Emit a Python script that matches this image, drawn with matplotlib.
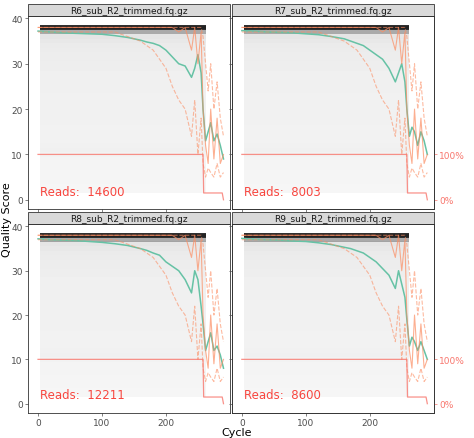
import numpy as np
import matplotlib.pyplot as plt

samples = ["R6_sub_R2_trimmed.fq.gz", "R7_sub_R2_trimmed.fq.gz",
           "R8_sub_R2_trimmed.fq.gz", "R9_sub_R2_trimmed.fq.gz"]
reads = [14600, 8003, 12211, 8600]
cycles = [0, 20, 40, 60, 80, 100, 120, 140, 160, 170, 180, 190, 200, 210, 220, 230, 240, 245, 250, 255, 258, 262, 266, 270, 275, 280, 285, 290]
mean_q = [
 [37.2, 37.0, 36.8, 36.7, 36.6, 36.5, 36.2, 35.8, 35.2, 34.8, 34.5, 34.0, 33.0, 31.5, 30.0, 29.5, 27.0, 29.0, 32.0, 28.0, 20.0, 13.0, 15.0, 17.0, 13.0, 14.5, 12.0, 9.0],
 [37.3, 37.2, 37.0, 36.9, 36.8, 36.6, 36.4, 36.0, 35.5, 35.0, 34.5, 34.0, 33.0, 32.0, 31.0, 29.0, 26.0, 28.0, 30.0, 26.0, 20.0, 14.0, 16.0, 15.0, 12.0, 15.0, 13.0, 10.0],
 [37.2, 37.0, 36.9, 36.8, 36.6, 36.4, 36.1, 35.7, 35.0, 34.6, 34.0, 33.5, 32.0, 31.0, 30.0, 28.0, 25.0, 30.0, 28.0, 22.0, 18.0, 12.0, 14.0, 16.0, 12.0, 13.0, 11.0, 8.0],
 [37.3, 37.1, 37.0, 36.9, 36.7, 36.6, 36.3, 35.9, 35.3, 35.0, 34.5, 34.0, 33.0, 32.0, 30.5, 29.0, 26.0, 30.0, 27.0, 24.0, 19.0, 13.0, 15.0, 14.0, 12.0, 14.0, 12.0, 10.0],
]
median_q = [38, 38, 38, 38, 38, 38, 38, 38, 38, 38, 38, 38, 38, 38, 37, 38, 33, 38, 30, 37, 20, 12, 8, 20, 9, 18, 8, 10]
q25 = [37, 37, 37, 37, 37, 37, 37, 36, 35, 34, 33, 31, 29, 25, 22, 20, 14, 22, 10, 18, 8, 5, 7, 6, 5, 8, 5, 6]
q75 = [38, 38, 38, 38, 38, 38, 38, 38, 38, 38, 38, 38, 38, 38, 38, 38, 38, 38, 38, 38, 36, 30, 24, 30, 20, 26, 18, 14]
prop_cycles = [0, 258, 259, 288, 290]
prop_vals = [10, 10, 1.5, 1.5, 0]
heat_levels = list(range(38, 1, -1))
heat_weight = [0.9, 0.4, 0.14, 0.12, 0.1, 0.09, 0.08, 0.08, 0.07, 0.07, 0.06, 0.06, 0.06, 0.06, 0.06,
               0.05, 0.05, 0.05, 0.05, 0.05, 0.05, 0.05, 0.04, 0.04, 0.04, 0.04, 0.05, 0.06, 0.04,
               0.03, 0.03, 0.03, 0.02, 0.02, 0.02, 0.01, 0.01]

fig = plt.figure(figsize=(4.74, 4.39), dpi=100)
lefts = [0.06, 0.49]
bottoms = [0.522, 0.058]
heights = [0.439, 0.429]
w = 0.425
green = "#66C2A5"; orange = "#FC8D62"; red = "#F8766D"
for i, s in enumerate(samples):
    r, c = divmod(i, 2)
    ax = fig.add_axes([lefts[c], bottoms[r], w, heights[r]])
    for lv, wt in zip(heat_levels, heat_weight):
        if wt > 0.3:
            g = 1 - wt * 0.9
        else:
            g = 0.97 - wt * 0.5
        ax.fill_between([3, 262], lv - 0.5, lv + 0.5, color=(g, g, g), lw=0)
    ax.fill_between([3, 262], 37.6, 38.4, color="#222222", lw=0)
    ax.fill_between([3, 262], 36.6, 37.4, color="#aaaaaa", lw=0)
    ax.plot(cycles, mean_q[i], color=green, lw=1.1)
    ax.plot(cycles, median_q, color=orange, lw=0.8, alpha=0.7)
    ax.plot(cycles, q25, color=orange, lw=0.8, ls="--", alpha=0.6)
    ax.plot(cycles, q75, color=orange, lw=0.8, ls="--", alpha=0.6)
    ax.plot(prop_cycles, prop_vals, color=red, lw=0.9, alpha=0.8)
    ax.text(3, 0.5, f"Reads:  {reads[i]}", color="#F8463F", fontsize=8.5, va="bottom")
    ax.set_xlim(-15, 300)
    ax.set_ylim(-2, 40.5)
    ax.set_xticks([0, 100, 200])
    ax.set_yticks([0, 10, 20, 30, 40])
    ax.tick_params(labelsize=6.5, colors="#4d4d4d", length=2.5, width=0.5, pad=1.5)
    if c == 1:
        ax.set_yticklabels([])
        ax2 = ax.twinx()
        ax2.set_ylim(ax.get_ylim())
        ax2.set_yticks([0, 10])
        ax2.set_yticklabels(["0%", "100%"])
        ax2.tick_params(labelsize=6.5, colors="#F8766D", length=2.5, width=0.5, pad=1.5)
        for sp in ax2.spines.values():
            sp.set_color("#333333"); sp.set_linewidth(0.6)
    if r == 0:
        ax.set_xticklabels([])
    for sp in ax.spines.values():
        sp.set_color("#333333"); sp.set_linewidth(0.6)
    sh = 0.027 / heights[r]
    ax.add_patch(plt.Rectangle((0, 1.0), 1, sh, transform=ax.transAxes, fc="#d9d9d9",
                               ec="#333333", lw=0.6, clip_on=False))
    ax.text(0.5, 1.0 + sh / 2, s, transform=ax.transAxes, ha="center", va="center",
            fontsize=6.5, color="#1a1a1a")
fig.text(0.5, 0.002, "Cycle", ha="center", va="bottom", fontsize=8)
fig.text(0.005, 0.5, "Quality Score", rotation=90, ha="left", va="center", fontsize=8)
fig.savefig("out.png", dpi=100)
